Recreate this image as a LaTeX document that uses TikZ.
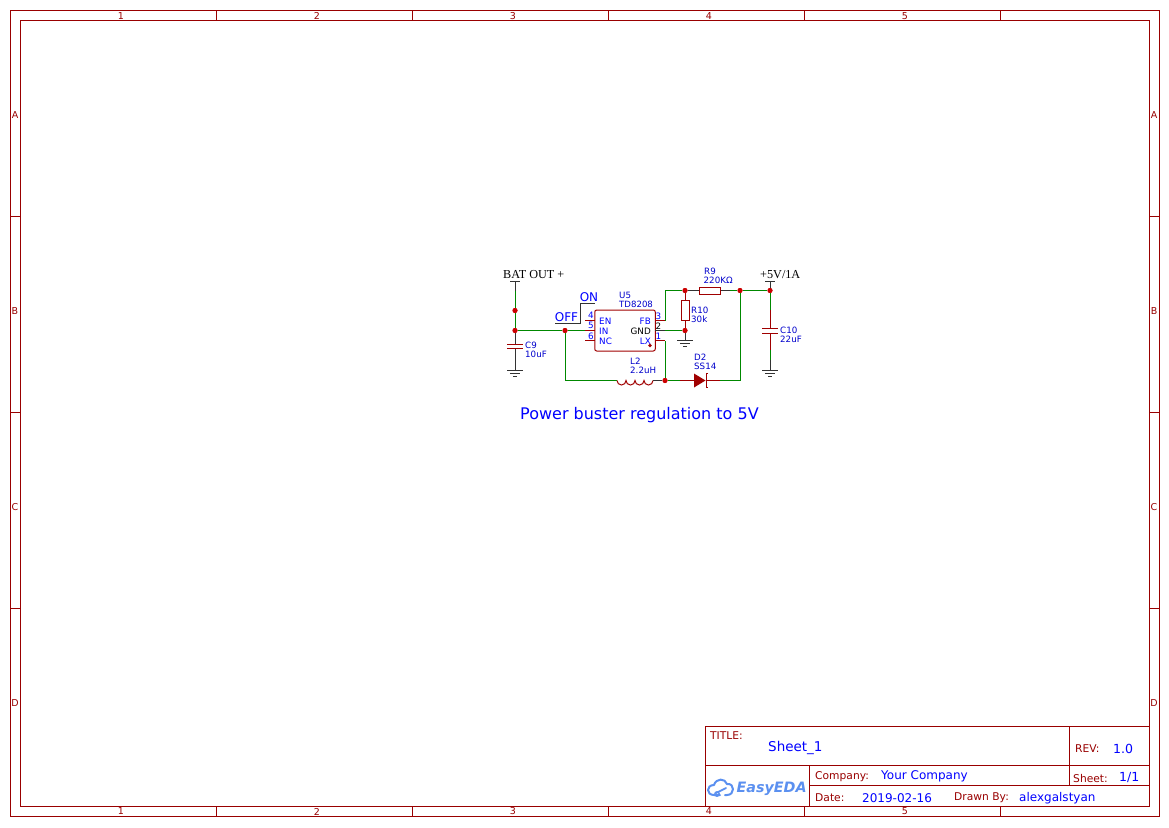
\documentclass[tikz,border=0pt]{standalone}
\usepackage{fontspec}
\setmainfont{DejaVu Sans}
\newfontfamily\serifface{Liberation Serif}
\definecolor{framec}{HTML}{990000}
\definecolor{wirec}{HTML}{008800}
\definecolor{partc}{HTML}{A00000}
\definecolor{blackc}{HTML}{333333}
\definecolor{junc}{HTML}{CC0000}
\definecolor{txtb}{HTML}{0000FF}
\definecolor{logoc}{HTML}{5B90F0}
\newcommand{\fs}[1]{\fontsize{#1}{#1}\selectfont}
\tikzset{
  frameline/.style={draw=framec,line width=1pt},
  wire/.style={draw=wirec,line width=1pt},
  pinline/.style={draw=partc,line width=1pt},
  blk/.style={draw=blackc,line width=1pt},
  junction/.style={circle,fill=junc,draw=none,minimum size=5pt,inner sep=0pt},
  ruler/.style={inner sep=0pt,text=framec,font=\fs{9.5}},
  tlabel/.style={inner sep=0pt,anchor=west,text=framec,font=\fs{10.7}},
  tvalue/.style={inner sep=0pt,anchor=west,text=txtb,font=\fs{11.5}},
  part/.style={inner sep=0pt,anchor=west,text=txtb!80!black,font=\fs{8.7}},
  pinnum/.style={inner sep=0pt,text=txtb,font=\fs{8.8}},
  pinname/.style={inner sep=0pt,text=txtb,font=\fs{8.8}},
  netl/.style={inner sep=0pt,text=black,font=\serifface\fs{12.2}},
  body/.style={draw=partc,line width=1pt,fill=white}
}
\newcommand{\gndsym}[2]{%
  \draw[blk] (#1-8,#2) -- (#1+8,#2);
  \draw[blk] (#1-5,#2+3) -- (#1+5,#2+3);
  \draw[blk] (#1-2,#2+6) -- (#1+2,#2+6);
}
\begin{document}
\begin{tikzpicture}[x=1pt,y=-1pt]
\useasboundingbox (0,0) rectangle (1169,827);
\fill[white] (0,0) rectangle (1169,827);
% Frame
\draw[frameline] (10,10.5) rectangle (1159,816.5);
\draw[frameline] (20,20.5) rectangle (1149,806.5);
\foreach \x in {216,412,608,804,1000} {
  \draw[frameline] (\x,10.5) -- (\x,20.5);
  \draw[frameline] (\x,806.5) -- (\x,816.5);
}
\foreach \y in {216.5,412.5,608.5} {
  \draw[frameline] (10,\y) -- (20,\y);
  \draw[frameline] (1149,\y) -- (1159,\y);
}
\foreach \t/\x in {1/121,2/317,3/513,4/709,5/905} {
  \node[ruler] (top\t) at (\x,16) {\t};
  \node[ruler] (bot\t) at (\x,811.5) {\t};
}
\foreach \t/\y in {A/115.5,B/311.5,C/507.5,D/703.5} {
  \node[ruler] (left\t) at (15,\y) {\t};
  \node[ruler] (right\t) at (1154,\y) {\t};
}
% Title block
\draw[frameline] (705,726.5) rectangle (1149,806.5);
\draw[frameline] (705,765.5) -- (1149,765.5);
\draw[frameline] (809.5,785.5) -- (1149,785.5);
\draw[frameline] (809.5,765.5) -- (809.5,806.5);
\draw[frameline] (1069.5,726.5) -- (1069.5,785.5);
\node[tlabel] (ttitle) at (710,735.5) {TITLE:};
\node[tvalue,font=\fs{13.5}] (vtitle) at (768,748) {Sheet\_1};
\node[tlabel] (trev) at (1075,749) {REV:};
\node[tvalue,font=\fs{12.5}] (vrev) at (1113,749) {1.0};
\node[tlabel] (tcomp) at (815,776.5) {Company:};
\node[tvalue,font=\fs{12}] (vcomp) at (881,776) {Your Company};
\node[tlabel] (tsheet) at (1073,778) {Sheet:};
\node[tvalue,font=\fs{12.5}] (vsheet) at (1119,778) {1/1};
\node[tlabel] (tdate) at (815,798) {Date:};
\node[tvalue,font=\fs{12}] (vdate) at (862,798) {2019-02-16};
\node[tlabel] (tdrawn) at (954,798) {Drawn By:};
\node[tvalue,font=\fs{12}] (vdrawn) at (1019,798) {alexgalstyan};
% Logo
\draw[logoc,line width=2pt,line cap=round,line join=round]
  (720,795) -- (714,795) .. controls (706,795) and (706,785) .. (714,785)
  .. controls (716,778) and (725,778) .. (727,784)
  .. controls (735,783) and (735,795) .. (727,795) -- (725,795);
\draw[logoc,line width=1.8pt,line cap=round] (716,793) -- (726,788);
\draw[logoc,line width=1.4pt] (717,794) circle (2.2pt);
\node[inner sep=0pt,anchor=west,text=logoc,font=\fs{14.3}\bfseries\itshape] (logo) at (736.5,789) {EasyEDA};
% Coordinates and junctions
\node[junction] (j1) at (515,310.5) {};
\node[junction] (j2) at (515,330.5) {};
\node[junction] (j3) at (565,330.5) {};
\node[junction] (j4) at (665,380.5) {};
\node[junction] (j5) at (685,290.5) {};
\node[junction] (j6) at (685,330.5) {};
\node[junction] (j7) at (740,290.5) {};
\node[junction] (j8) at (770,290.5) {};
\coordinate (batbar) at (515,281);
\coordinate (c9a) at (515,344);
\coordinate (c9b) at (515,348);
\coordinate (c9g) at (515,370);
\coordinate (pin5) at (585,330.5);
\coordinate (corn1) at (565,380.5);
\coordinate (l2a) at (617,380.5);
\coordinate (l2b) at (653,380.5);
\coordinate (p1e) at (665,340.5);
\coordinate (p3e) at (665,320.5);
\coordinate (p2e) at (665,330.5);
\coordinate (corn2) at (665,290.5);
\coordinate (r9a) at (699.5,290.5);
\coordinate (r9b) at (720.5,290.5);
\coordinate (r9w) at (730,290.5);
\coordinate (r10g) at (685,340);
\coordinate (d2w) at (680,380.5);
\coordinate (d2a) at (694,380.5);
\coordinate (d2c) at (706,380.5);
\coordinate (d2e) at (720,380.5);
\coordinate (corn3) at (740,380.5);
\coordinate (c10t) at (770,281);
\coordinate (c10a) at (770,328);
\coordinate (c10b) at (770,333);
\coordinate (c10g) at (770,370);
% Wires
\draw[wire] (j1) -- (j2);
\draw[wire] (j2) -- (j3) -- (pin5);
\draw[wire] (j3) -- (corn1) -- (l2a);
\draw[wire] (j4) -- (p1e);
\draw[wire] (p3e) -- (corn2) -- (j5) -- (r9a);
\draw[wire] (p2e) -- (j6);
\draw[wire] (r9w) -- (j7) -- (j8);
\draw[wire] (j7) -- (corn3) -- (d2e);
\draw[wire] (j4) -- (d2w);
\draw[wire] (j8) -- (770,310);
\draw[wire] (770,350) -- (c10g);
% Bat rail
\draw[blk] (batbar) -- (515,291);
\draw[wire] (515,291) -- (j1);
\draw[blk] (510,281) -- (520,281);
\node[netl,anchor=west] (bat) at (503,275) {BAT OUT +};
% C9
\draw[blk] (j2) -- (c9a);
\draw[blk] (c9b) -- (c9g);
\draw[partc,line width=1pt] (507,344) -- (523,344) (507,348) -- (523,348);
\gndsym{515}{370}
\node[part] (c9n) at (525,345) {C9};
\node[part] (c9v) at (525,354.5) {10uF};
% IC
\node[body,rounded corners=2pt,minimum width=60.5pt,minimum height=41pt,inner sep=0pt] (u5) at (625,330.5) {};
\draw[pinline] (585,320.5) -- (595,320.5);
\draw[pinline] (585,330.5) -- (595,330.5);
\draw[pinline] (585,340.5) -- (595,340.5);
\draw[pinline] (655,320.5) -- (p3e);
\draw[blk] (655,330.5) -- (p2e);
\draw[pinline] (655,340.5) -- (p1e);
\node[part] (u5n) at (619,295.5) {U5};
\node[part,font=\fs{8.6}] (u5v) at (619,304.5) {TD8208};
\node[pinnum] (n4) at (591,315.5) {4};
\node[pinnum] (n5) at (591,325.5) {5};
\node[pinnum] (n6) at (591,336) {6};
\node[pinnum] (n3) at (658.5,316) {3};
\node[inner sep=0pt,font=\fs{8.8},text=black] (n2) at (658.5,326.5) {2};
\node[pinnum] (n1) at (658.5,336) {1};
\node[pinname,anchor=west] (en) at (599,321.5) {EN};
\node[pinname,anchor=west] (in) at (599,331.5) {IN};
\node[pinname,anchor=west] (nc) at (599,341.5) {NC};
\node[pinname,anchor=east] (fb) at (651,321.5) {FB};
\node[inner sep=0pt,anchor=east,font=\fs{8.8},text=black] (gnd) at (651,331.5) {GND};
\node[pinname,anchor=east] (lx) at (651,341.5) {LX};
\fill[junc!80!black] (650,345.5) circle (1.8pt);
% ON/OFF
\draw[blk] (555,323.5) -- (580,323.5) -- (580,303.5) -- (595,303.5);
\node[inner sep=0pt,text=txtb,font=\fs{12}] (off) at (566.5,317) {OFF};
\node[inner sep=0pt,text=txtb,font=\fs{12}] (on) at (589,297) {ON};
% L2
\draw[partc,line width=1pt] (l2a)
  arc[start angle=180,end angle=0,radius=4.5]
  arc[start angle=180,end angle=0,radius=4.5]
  arc[start angle=180,end angle=0,radius=4.5]
  arc[start angle=180,end angle=0,radius=4.5];
\draw[blk] (l2b) -- (j4);
\node[part] (l2n) at (630,361) {L2};
\node[part] (l2v) at (630,370) {2.2uH};
% D2
\draw[partc,line width=1pt] (d2w) -- (d2a);
\draw[partc,line width=1pt] (d2c) -- (d2e);
\fill[partc] (694,373.5) -- (705.5,380.5) -- (694,387.5) -- cycle;
\draw[partc,line width=1pt] (708,373.5) -- (706,373.5) -- (706,387.5) -- (708,387.5);
\node[part] (d2n) at (694,357) {D2};
\node[part] (d2v) at (694,366.5) {SS14};
% R9
\draw[blk] (j5) -- (r9a);
\draw[body] (699.5,287) rectangle (720.5,294);
\draw[blk] (r9b) -- (r9w);
\node[part] (r9n) at (704,271.5) {R9};
\node[part] (r9v) at (703.5,280.5) {220KΩ};
% R10
\draw[partc,line width=1pt] (j5) -- (685,300);
\draw[body] (681,300.5) rectangle (689,320.5);
\draw[partc,line width=1pt] (685,320.5) -- (j6);
\draw[blk] (j6) -- (r10g);
\gndsym{685}{340}
\node[part] (r10n) at (691,310.5) {R10};
\node[part] (r10v) at (691,319.5) {30k};
% C10
\draw[blk] (c10t) -- (770,290);
\draw[blk] (765,281) -- (775,281);
\draw[partc,line width=1pt] (770,310) -- (c10a) (c10b) -- (770,350);
\draw[partc,line width=1pt] (762,328) -- (778,328) (762,333) -- (778,333);
\draw[blk] (770,360) -- (c10g);
\gndsym{770}{370}
\node[netl,anchor=west] (v5) at (760,275) {+5V/1A};
\node[part] (c10n) at (780,330.5) {C10};
\node[part] (c10v) at (780,339.5) {22uF};
% redraw junctions on top
\foreach \n in {j1,j2,j3,j4,j5,j6,j7,j8} \fill[junc] (\n) circle (2.5pt);
% Caption
\node[inner sep=0pt,text=txtb,font=\fs{16},anchor=west] (cap) at (520,415.5) {Power buster regulation to 5V};
\end{tikzpicture}
\end{document}
